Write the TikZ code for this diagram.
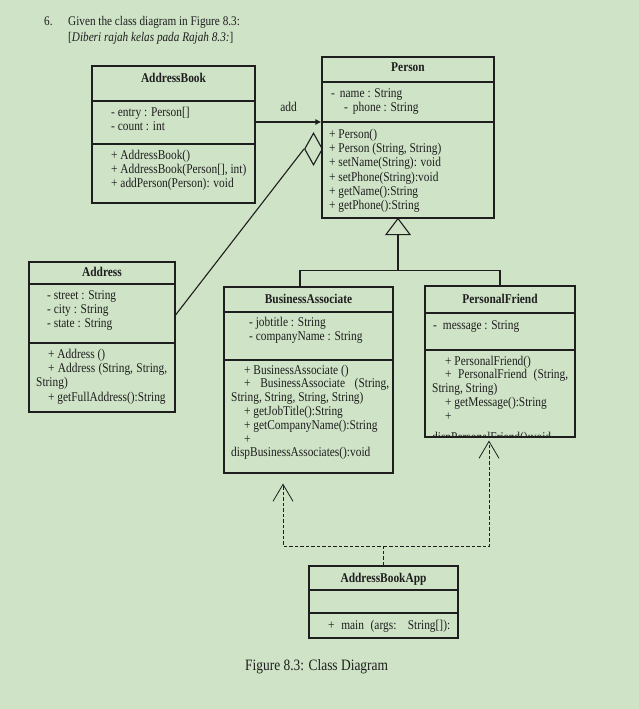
\documentclass[tikz,border=0pt]{standalone}
\usepackage{fontspec}
\setmainfont{Liberation Serif}[FakeStretch=0.85]
\usetikzlibrary{arrows.meta,shapes.geometric}
\definecolor{scanbg}{RGB}{207,227,199}
\definecolor{ink}{RGB}{30,30,30}
\tikzset{
classbox/.style={draw, line width=1.1pt, inner sep=0pt},
classname/.style={anchor=base, inner sep=0pt, font=\fontsize{13.4}{14.3}\selectfont\bfseries},
members/.style={anchor=north west, inner sep=0pt, align=left, font=\fontsize{13.4}{14.3}\selectfont},
member/.style={anchor=base west, inner sep=0pt, font=\fontsize{13.4}{14.3}\selectfont},
header/.style={anchor=base west, inner sep=0pt, font=\fontsize{13.2}{16}\selectfont},
assoc/.style={line width=1.1pt, -{Latex[length=6pt,width=6pt]}},
depend/.style={line width=0.8pt, dash pattern=on 3.5pt off 2pt, -{Straight Barb[length=17pt,width=20pt]}}
}
\begin{document}
\begin{tikzpicture}[x=1pt,y=-1pt,color=ink]
\fill[scanbg] (0,0) rectangle (639,709);
\useasboundingbox (0,0) rectangle (639,709);
%Question
\node[header] (qnum) at (44,26) {6.};
\node[header] (qtext) at (68,26) {Given the class diagram in Figure 8.3:};
\node[header] (qmalay) at (68,42) {[\textit{Diberi rajah kelas pada Rajah 8.3:}]};
%AddressBook
\node[classbox, minimum width=163pt, minimum height=137pt] (addrbook) at (173.5,134.5) {};
\draw[line width=1.1pt] (addrbook.west |- 0,101) -- (addrbook.east |- 0,101);
\draw[line width=1.1pt] (addrbook.west |- 0,144) -- (addrbook.east |- 0,144);
\node[classname] (abname) at (173.5,82.5) {AddressBook};
\node[members] (abattr) at (111,106) {\strut- entry : Person[]\\- count : int};
\node[members] (abmeth) at (111,149) {\strut+ AddressBook()\\+ AddressBook(Person[], int)\\+ addPerson(Person): void};
%Person
\node[classbox, minimum width=172pt, minimum height=161pt] (person) at (408,137.5) {};
\draw[line width=1.1pt] (person.west |- 0,82) -- (person.east |- 0,82);
\draw[line width=1.1pt] (person.west |- 0,122) -- (person.east |- 0,122);
\node[classname] (pname) at (408,71.5) {Person};
\node[members] (pattr) at (331,87) {\strut-\hspace{5pt}name : String\\\hspace*{13pt}-\hspace{5pt}phone : String};
\node[members] (pmeth) at (329,128) {\strut+ Person()\\+ Person (String, String)\\+ setName(String): void\\+ setPhone(String):void\\+ getName():String\\+ getPhone():String};
%AddressBook to Person
\draw[assoc] ([yshift=12.5pt]addrbook.east) -- ([yshift=15.5pt]person.west)
node[member, anchor=base, pos=0.5, yshift=11pt] (addlbl) {add};
%Address
\node[classbox, minimum width=146pt, minimum height=150pt] (address) at (102,337) {};
\draw[line width=1.1pt] (address.west |- 0,284) -- (address.east |- 0,284);
\draw[line width=1.1pt] (address.west |- 0,343) -- (address.east |- 0,343);
\node[classname] (adname) at (102,276.5) {Address};
\node[members] (adattr) at (47,289) {\strut- street : String\\- city : String\\- state : String};
\node[members] (admeth) at (36,348) {\strut\hspace*{12pt}+ Address ()\\\hspace*{12pt}\makebox[119pt][s]{+ Address (String, String,}\\String)\\\hspace*{12pt}+ getFullAddress():String};
%Aggregation
\node[classbox, shape=diamond, minimum width=18pt, minimum height=32pt] (agg) at (313.5,149) {};
\draw[line width=1.1pt] ([yshift=22pt]address.east) -- (agg.west);
%BusinessAssociate
\node[classbox, minimum width=169pt, minimum height=186pt] (bassoc) at (308.5,380) {};
\draw[line width=1.1pt] (bassoc.west |- 0,312) -- (bassoc.east |- 0,312);
\draw[line width=1.1pt] (bassoc.west |- 0,360) -- (bassoc.east |- 0,360);
\node[classname] (baname) at (308.5,303.5) {BusinessAssociate};
\node[members] (baattr) at (249,316) {\strut- jobtitle : String\\- companyName : String};
\node[members, font=\fontsize{13.4}{13.8}\selectfont] (bameth) at (231,364.3) {\strut\hspace*{13pt}+ BusinessAssociate ()\\\hspace*{13pt}\makebox[145pt][s]{+ BusinessAssociate (String,}\\String, String, String, String)\\\hspace*{13pt}+ getJobTitle():String\\\hspace*{13pt}+ getCompanyName():String\\\hspace*{13pt}+\\dispBusinessAssociates():void};
%PersonalFriend
\node[classbox, minimum width=150pt, minimum height=151pt] (pfriend) at (500,361.5) {};
\draw[line width=1.1pt] (pfriend.west |- 0,313) -- (pfriend.east |- 0,313);
\draw[line width=1.1pt] (pfriend.west |- 0,350) -- (pfriend.east |- 0,350);
\node[classname] (pfname) at (500,303.5) {PersonalFriend};
\node[member] (pfattr) at (433,329) {-\hspace{6pt}message : String};
\node[members, font=\fontsize{13.4}{13.8}\selectfont] (pfmeth) at (432,355.3) {\strut\hspace*{13pt}+ PersonalFriend()\\\hspace*{13pt}\makebox[123pt][s]{+ PersonalFriend (String,}\\String, String)\\\hspace*{13pt}+ getMessage():String\\\hspace*{13pt}+};
\begin{scope}
\clip (pfriend.south west |- 0,418) rectangle ([yshift=0.5pt]pfriend.south east);
\node[member] (pfdisp) at (432,441) {dispPersonalFriend():void};
\end{scope}
%Generalization
\coordinate (genapex) at ([xshift=-10pt]person.south);
\draw[line width=1.1pt] (genapex) -- ++(12,16) -- ++(-24,0) -- cycle;
\draw[line width=1.1pt] ([yshift=-16pt]genapex) -- ++(0,36) coordinate (genjoin) -| ([xshift=-8.5pt]bassoc.north);
\draw[line width=1.1pt] (genjoin) -| (pfriend.north);
%AddressBookApp
\node[classbox, minimum width=149pt, minimum height=72pt] (abapp) at (383.5,602) {};
\draw[line width=1.1pt] (abapp.west |- 0,590) -- (abapp.east |- 0,590);
\draw[line width=1.1pt] (abapp.west |- 0,613) -- (abapp.east |- 0,613);
\node[classname] (appname) at (383.5,582.5) {AddressBookApp};
\node[member] (appmeth) at (328,629) {\makebox[122pt][s]{+ main (args: String[]):}};
%Dependencies
\draw[depend] (abapp.north) -- ++(0,-19) coordinate (depjoin) -| ([xshift=-25.5pt,yshift=-10pt]bassoc.south);
\draw[depend] (depjoin) -| ([xshift=-11pt,yshift=-3pt]pfriend.south);
%Caption
\node[member, font=\fontsize{15.8}{18}\selectfont] (caption) at (245,670) {Figure 8.3: Class Diagram};
\end{tikzpicture}
\end{document}
